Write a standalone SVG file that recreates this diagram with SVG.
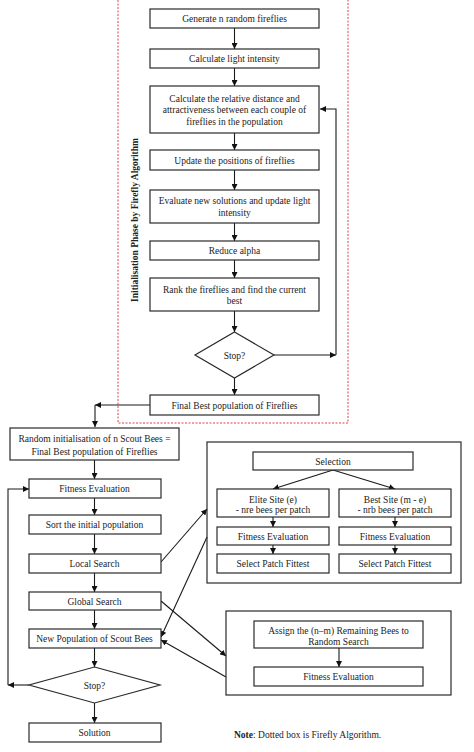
<svg xmlns="http://www.w3.org/2000/svg" width="474" height="752" viewBox="0 0 474 752">
<style>
.b{fill:#fff;stroke:#2a2a2a;stroke-width:1.2}
.c{fill:none;stroke:#1a1a1a;stroke-width:1.1}
.t{font-family:"Liberation Serif","Times New Roman",serif;font-size:9.5px;fill:#222;text-anchor:middle}
.red{fill:none;stroke:#e04040;stroke-width:1;stroke-dasharray:2,1.5}
</style>
<defs>
<marker id="a" markerUnits="userSpaceOnUse" markerWidth="7" markerHeight="6" refX="6" refY="3" orient="auto">
<path d="M0,0 L6,3 L0,6 z" fill="#111"/>
</marker>
</defs>
<rect width="474" height="752" fill="#fff"/>
<g id="firefly-box">
<path class="red" d="M118,0 V423 H348 V0"/>
<text class="t" transform="translate(138,220) rotate(-90)" style="font-weight:bold">Initialisation Phase by Firefly Algorithm</text>
</g>
<g id="connectors">
<path class="c" d="M234.5,28 V49" marker-end="url(#a)"/>
<path class="c" d="M234.5,68 V86" marker-end="url(#a)"/>
<path class="c" d="M234.5,133 V150" marker-end="url(#a)"/>
<path class="c" d="M234.5,170 V190" marker-end="url(#a)"/>
<path class="c" d="M234.5,223 V241" marker-end="url(#a)"/>
<path class="c" d="M234.5,260 V278" marker-end="url(#a)"/>
<path class="c" d="M234.5,311 V332" marker-end="url(#a)"/>
<path class="c" d="M234.5,378 V395" marker-end="url(#a)"/>
<path class="c" d="M274,355 H336" marker-end="url(#a)"/>
<path class="c" d="M336,355 V109 H320" marker-end="url(#a)"/>
<path class="c" d="M150,405 H95" marker-end="url(#a)"/>
<path class="c" d="M95,405 V427" marker-end="url(#a)"/>
<path class="c" d="M94.5,460 V479" marker-end="url(#a)"/>
<path class="c" d="M94.5,498 V515" marker-end="url(#a)"/>
<path class="c" d="M94.5,534 V554" marker-end="url(#a)"/>
<path class="c" d="M94.5,573 V592" marker-end="url(#a)"/>
<path class="c" d="M94.5,610 V629" marker-end="url(#a)"/>
<path class="c" d="M94.5,648 V667" marker-end="url(#a)"/>
<path class="c" d="M94.5,703 V723" marker-end="url(#a)"/>
<path class="c" d="M29,685 H8" marker-end="url(#a)"/>
<path class="c" d="M8,685 V489 H29" marker-end="url(#a)"/>
<path class="c" d="M161,562 L207,509" marker-end="url(#a)"/>
<path class="c" d="M207,537 L161,637" marker-end="url(#a)"/>
<path class="c" d="M161,601 L226,656" marker-end="url(#a)"/>
<path class="c" d="M226,677 L161,640" marker-end="url(#a)"/>
<path class="c" d="M333,470 L273,489" marker-end="url(#a)"/>
<path class="c" d="M333,470 L395,489" marker-end="url(#a)"/>
<path class="c" d="M273,517 V527" marker-end="url(#a)"/>
<path class="c" d="M273,545 V554" marker-end="url(#a)"/>
<path class="c" d="M395,517 V527" marker-end="url(#a)"/>
<path class="c" d="M395,545 V554" marker-end="url(#a)"/>
<path class="c" d="M339,648 V667" marker-end="url(#a)"/>
</g>
<g id="generate"><rect class="b" x="150" y="9" width="169" height="19"/><text class="t" x="234.5" y="22">Generate n random fireflies</text></g>
<g id="light"><rect class="b" x="150" y="49" width="169" height="19"/><text class="t" x="234.5" y="62">Calculate light intensity</text></g>
<g id="distance"><rect class="b" x="150" y="86" width="169" height="47"/><text class="t" x="234.5" y="101.5">Calculate the relative distance and</text><text class="t" x="234.5" y="113">attractiveness between each couple of</text><text class="t" x="234.5" y="124.5">fireflies in the population</text></g>
<g id="update"><rect class="b" x="150" y="150" width="169" height="20"/><text class="t" x="234.5" y="163.5">Update the positions of fireflies</text></g>
<g id="evaluate"><rect class="b" x="150" y="190" width="169" height="33"/><text class="t" x="234.5" y="203.5">Evaluate new solutions and update light</text><text class="t" x="234.5" y="215.5">intensity</text></g>
<g id="reduce"><rect class="b" x="150" y="241" width="169" height="19"/><text class="t" x="234.5" y="254">Reduce alpha</text></g>
<g id="rank"><rect class="b" x="150" y="278" width="169" height="33"/><text class="t" x="234.5" y="293">Rank the fireflies and find the current</text><text class="t" x="234.5" y="304">best</text></g>
<g id="stop1"><path class="b" d="M234.5,332 L274,355 L234.5,378 L195,355 Z"/><text class="t" x="234.5" y="358.5">Stop?</text></g>
<g id="finalbest"><rect class="b" x="150" y="395" width="169" height="20"/><text class="t" x="234.5" y="408.5">Final Best population of Fireflies</text></g>
<g id="randominit"><rect class="b" x="10" y="428" width="169" height="32"/><text class="t" x="94.5" y="441.5">Random initialisation of n Scout Bees =</text><text class="t" x="94.5" y="454.5">Final Best population of Fireflies</text></g>
<g id="fitness"><rect class="b" x="29" y="479" width="132" height="19"/><text class="t" x="94.5" y="492">Fitness Evaluation</text></g>
<g id="sort"><rect class="b" x="29" y="515" width="132" height="19"/><text class="t" x="94.5" y="528">Sort the initial population</text></g>
<g id="local"><rect class="b" x="29" y="554" width="132" height="19"/><text class="t" x="94.5" y="567">Local Search</text></g>
<g id="global"><rect class="b" x="29" y="592" width="132" height="18"/><text class="t" x="94.5" y="604.5">Global Search</text></g>
<g id="newpop"><rect class="b" x="29" y="629" width="132" height="19"/><text class="t" x="94.5" y="642">New Population of Scout Bees</text></g>
<g id="stop2"><path class="b" d="M94.5,667 L160,685 L94.5,703 L29,685 Z"/><text class="t" x="94.5" y="688.5">Stop?</text></g>
<g id="solution"><rect class="b" x="29" y="723" width="132" height="19"/><text class="t" x="94.5" y="736">Solution</text></g>
<g id="localblock"><rect class="b" x="207" y="442" width="254" height="141" style="fill:none"/></g>
<g id="selection"><rect class="b" x="253" y="452" width="160" height="18"/><text class="t" x="333" y="464.5">Selection</text></g>
<g id="elite"><rect class="b" x="217" y="489" width="112" height="28"/><text class="t" x="273" y="502.5">Elite Site (e)</text><text class="t" x="273" y="513">- nre bees per patch</text></g>
<g id="best"><rect class="b" x="339" y="489" width="112" height="28"/><text class="t" x="395" y="502.5">Best Site (m - e)</text><text class="t" x="395" y="513">- nrb bees per patch</text></g>
<g id="fit-elite"><rect class="b" x="217" y="527" width="112" height="18"/><text class="t" x="273" y="539.5">Fitness Evaluation</text></g>
<g id="fit-best"><rect class="b" x="339" y="527" width="112" height="18"/><text class="t" x="395" y="539.5">Fitness Evaluation</text></g>
<g id="patch-elite"><rect class="b" x="217" y="554" width="112" height="19"/><text class="t" x="273" y="567">Select Patch Fittest</text></g>
<g id="patch-best"><rect class="b" x="339" y="554" width="112" height="19"/><text class="t" x="395" y="567">Select Patch Fittest</text></g>
<g id="globalblock"><rect class="b" x="226" y="611" width="225" height="84" style="fill:none"/></g>
<g id="assign"><rect class="b" x="254" y="621" width="169" height="27"/><text class="t" x="338.5" y="634">Assign the (n–m) Remaining Bees to</text><text class="t" x="338.5" y="644.5">Random Search</text></g>
<g id="fit-random"><rect class="b" x="254" y="667" width="169" height="19"/><text class="t" x="338.5" y="680">Fitness Evaluation</text></g>
<g id="note"><text class="t" x="234" y="738" style="text-anchor:start"><tspan style="font-weight:bold">Note</tspan>: Dotted box is Firefly Algorithm.</text></g>
</svg>
